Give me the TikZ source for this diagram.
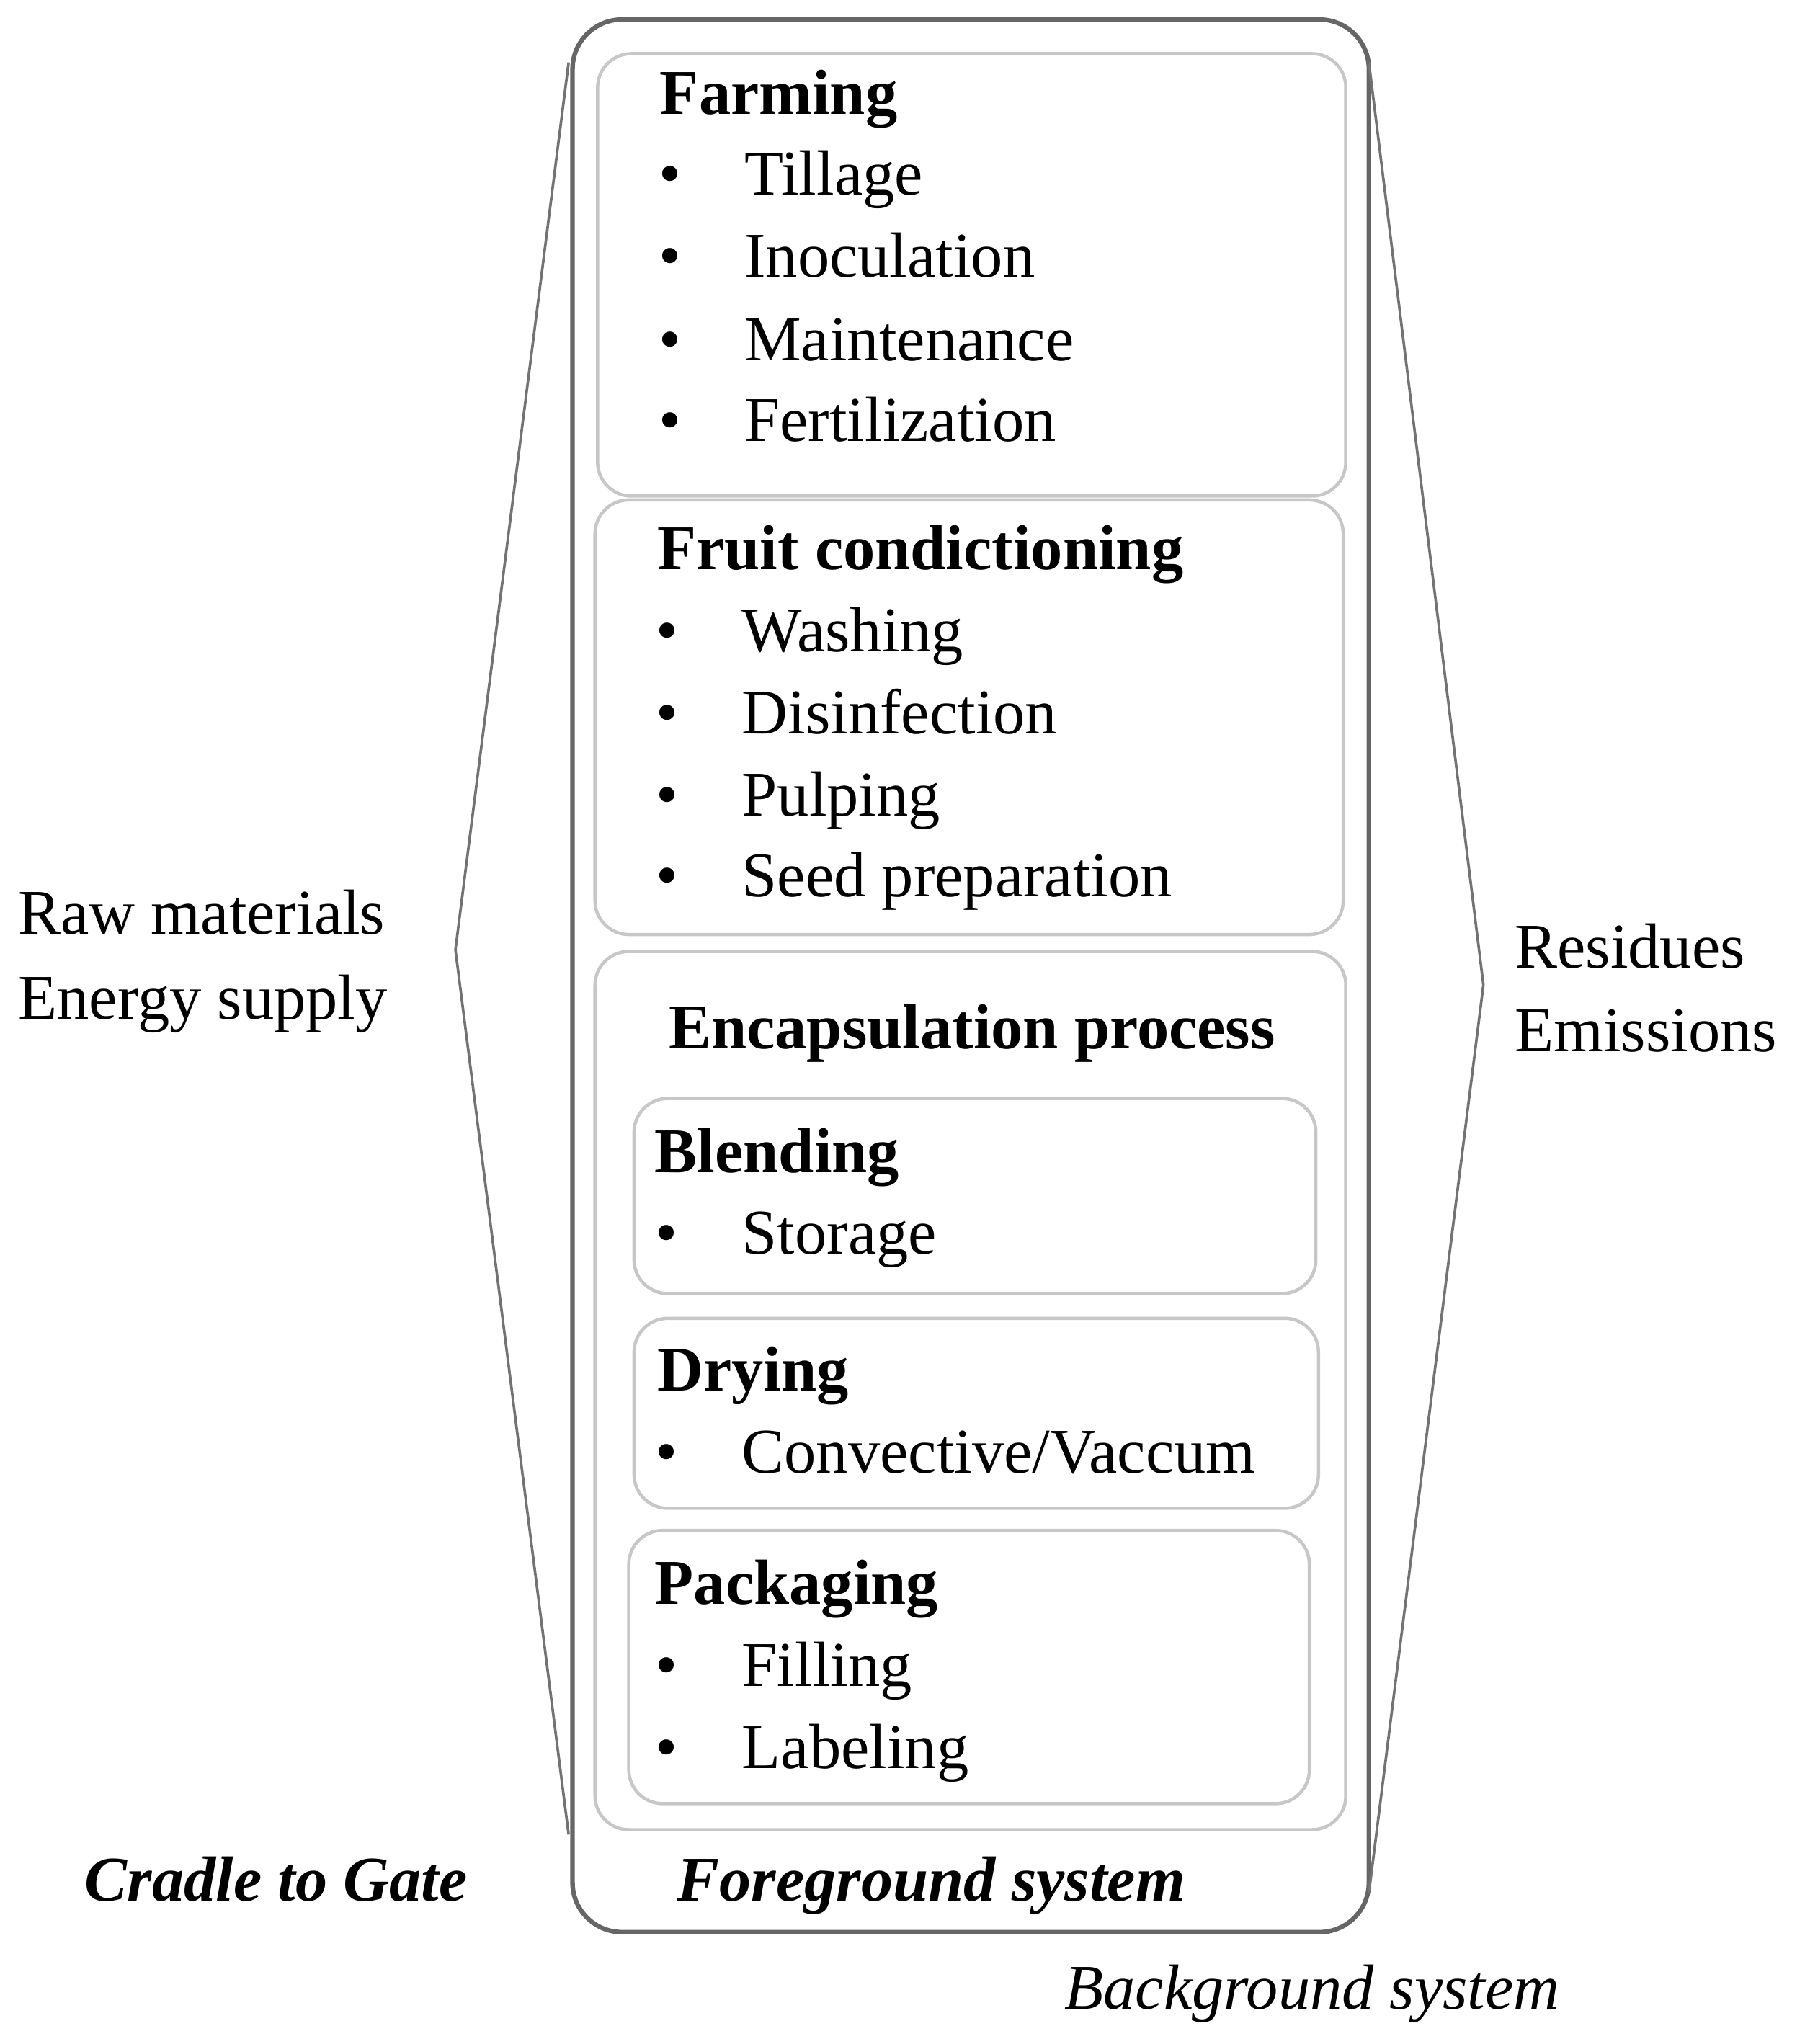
\documentclass[tikz,border=0pt]{standalone}
\usepackage{fontspec}
\setmainfont{Liberation Serif}
\begin{document}
\begin{tikzpicture}[x=1pt,y=1pt,
  t/.style={anchor=base west,inner sep=0pt,font=\fontsize{49}{55}\selectfont},
  h/.style={t,font=\fontsize{49}{55}\selectfont\bfseries},
  bul/.style={anchor=base,inner sep=0pt,font=\fontsize{49}{55}\selectfont},
  box/.style={draw=black!22,line width=2.5pt,rounded corners=26pt},
  outer/.style={draw=black!60,line width=3.5pt,rounded corners=38pt},
  chev/.style={draw=black!55,line width=2pt}]
\useasboundingbox (0,0) rectangle (1387,-1571);
\draw[outer] (440,-15) rectangle (1052,-1485);
\node[box,minimum width=575pt,minimum height=340pt,anchor=north west] (farm) at (458,-40) {};
\node[box,minimum width=575pt,minimum height=334pt,anchor=north west] (fruit) at (456,-383) {};
\node[box,minimum width=577pt,minimum height=675pt,anchor=north west] (enc) at (456,-730) {};
\node[box,minimum width=524pt,minimum height=150pt,anchor=north west] (blend) at (486,-843) {};
\node[box,minimum width=526pt,minimum height=146pt,anchor=north west] (dry) at (486,-1012) {};
\node[box,minimum width=523pt,minimum height=210pt,anchor=north west] (pack) at (482,-1175) {};
\coordinate (lt) at (437,-48); \coordinate (lm) at (350,-730); \coordinate (lb) at (437,-1410);
\coordinate (rt) at (1052,-48); \coordinate (rm) at (1140,-757); \coordinate (rb) at (1052,-1455);
\draw[chev] (lt) -- (lm) -- (lb);
\draw[chev] (rt) -- (rm) -- (rb);
% Farming
\node[h] (hfarm) at (507,-88) {Farming};
\foreach \y/\s [count=\i] in {135/Tillage,198/Inoculation,262/Maintenance,324/Fertilization}{
  \node[bul] (fb\i) at (515,-\y-15) {•};
  \node[t] (ft\i) at (572,-\y-15) {\s};}
% Fruit
\node[h] (hfruit) at (505,-438) {Fruit condictioning};
\foreach \y/\s [count=\i] in {486/Washing,549/Disinfection,612/Pulping,674/Seed preparation}{
  \node[bul] (rb\i) at (513,-\y-15) {•};
  \node[t] (rt\i) at (570,-\y-15) {\s};}
\node[h,anchor=base] (henc) at (747,-806) {Encapsulation process};
\node[h] (hbl) at (503,-901) {Blending};
\node[bul] (bb1) at (512,-964) {•}; \node[t] (bt1) at (570,-964) {Storage};
\node[h] (hdr) at (505,-1069) {Drying};
\node[bul] (db1) at (512,-1132) {•}; \node[t] (dt1) at (570,-1132) {Convective/Vaccum};
\node[h] (hpk) at (503,-1233) {Packaging};
\node[bul] (pb1) at (512,-1296) {•}; \node[t] (pt1) at (570,-1296) {Filling};
\node[bul] (pb2) at (512,-1359) {•}; \node[t] (pt2) at (570,-1359) {Labeling};
% side texts
\node[t] (raw) at (14,-718) {Raw materials};
\node[t] (en) at (14,-783) {Energy supply};
\node[t] (res) at (1164,-744) {Residues};
\node[t] (em) at (1164,-808) {Emissions};
\node[h,font=\fontsize{49}{55}\selectfont\bfseries\itshape] (cg) at (65,-1461) {Cradle to Gate};
\node[h,font=\fontsize{49}{55}\selectfont\bfseries\itshape] (fg) at (520,-1461) {Foreground system};
\node[t,font=\fontsize{49}{55}\selectfont\itshape] (bg) at (818,-1544) {Background system};
\end{tikzpicture}
\end{document}
